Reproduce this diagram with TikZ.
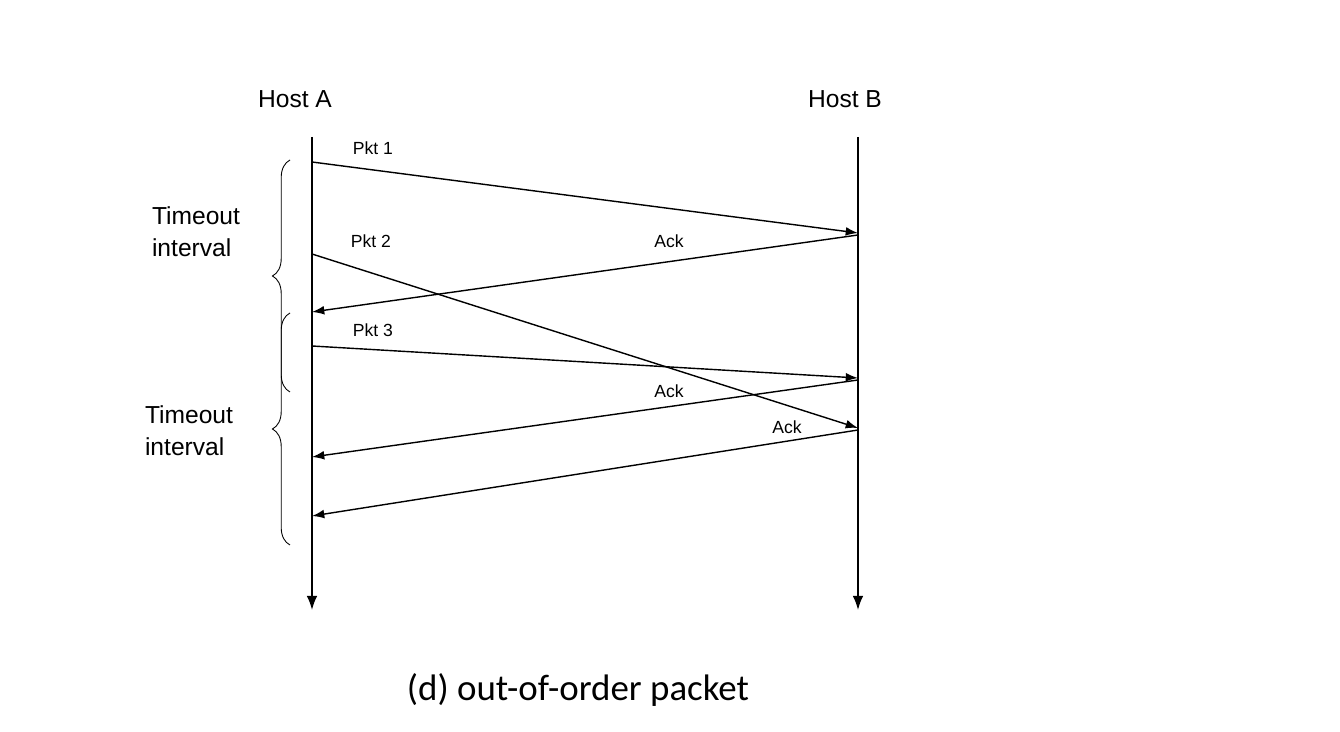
\documentclass[tikz,border=0pt]{standalone}
\usepackage{fontspec}
\setmainfont{Liberation Sans}
\newfontfamily\capfont{Carlito}
\usetikzlibrary{arrows.meta,decorations.pathreplacing}

\begin{document}
\begin{tikzpicture}[x=0.02cm,y=-0.02cm]
  \tikzset{msg/.style = {-{Latex[length=7pt,width=5pt]}, line width=0.8pt}}
  \tikzset{life/.style = {-{Latex[length=8pt,width=6pt]}, line width=0.9pt}}
  \tikzset{lbl/.style = {font=\fontsize{10}{12}\selectfont}}
  \tikzset{tmo/.style = {decorate, decoration={brace,amplitude=10pt}, line width=0.5pt}}
  \useasboundingbox (0,0) rectangle (1340,732);

  % hosts
  \node[font=\fontsize{14}{16}\selectfont] (hA) at (295,99) {Host A};
  \node[font=\fontsize{14}{16}\selectfont] (hB) at (845,99) {Host B};
  \coordinate (a0) at (312,137); \coordinate (a1) at (312,610);
  \coordinate (b0) at (858,137); \coordinate (b1) at (858,610);
  \draw[life] (a0) -- (a1);
  \draw[life] (b0) -- (b1);

  % messages
  \foreach \n/\ya/\yb in {p1/162/233, p2/254/428, p3/346/378}
  {
    \coordinate (\n s) at (312,\ya);
    \coordinate (\n e) at (858,\yb);
    \draw[msg] (\n s) -- (\n e);
  }
  \foreach \n/\yb/\ya in {k1/235/312, k3/380/457, k2/430/516}
  {
    \coordinate (\n s) at (858,\yb);
    \coordinate (\n e) at (312,\ya);
    \draw[msg] (\n s) -- (\n e);
  }

  % labels
  \node[lbl] (l1) at (373,148) {Pkt 1};
  \node[lbl] (l2) at (371,241) {Pkt 2};
  \node[lbl] (l3) at (373,330) {Pkt 3};
  \node[lbl] (l4) at (669,241) {Ack};
  \node[lbl] (l5) at (669,391) {Ack};
  \node[lbl] (l6) at (787,427) {Ack};

  % timeouts
  \coordinate (t1a) at (290,392); \coordinate (t1b) at (290,160);
  \coordinate (t2a) at (290,545); \coordinate (t2b) at (290,313);
  \draw[tmo] (t1a) -- (t1b);
  \draw[tmo] (t2a) -- (t2b);
  \node[font=\fontsize{14}{18}\selectfont, align=left] (to1) at (196,232) {Timeout\\interval};
  \node[font=\fontsize{14}{18}\selectfont, align=left] (to2) at (189,431) {Timeout\\interval};

  \node[font=\capfont\fontsize{21}{24}\selectfont] (cap) at (578,690) {(d) out-of-order packet};
\end{tikzpicture}
\end{document}
